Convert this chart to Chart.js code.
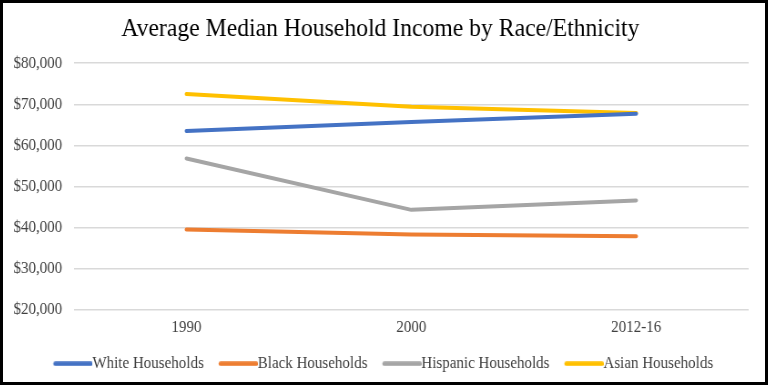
<!DOCTYPE html>
<html>
<head>
<meta charset="utf-8">
<script src="https://cdn.jsdelivr.net/npm/chart.js@4.4.1/dist/chart.umd.min.js"></script>
<style>
  html, body { margin: 0; padding: 0; background: #fff; }
  #frame {
    width: 768px; height: 385px;
    box-sizing: border-box;
    border: 3px solid #000;
    overflow: hidden;
    position: relative;
  }
  /* the source picture is a bit narrower than its fonts, so squeeze the canvas sideways */
  #squeeze {
    width: 837px; height: 379px;
    transform: scaleX(0.9104);
    transform-origin: 0 0;
  }
</style>
</head>
<body>
<div id="frame"><div id="squeeze"><canvas id="incomeChart" width="837" height="379"></canvas></div></div>
<script>
// values, in dollars
const years = ["1990", "2000", "2012-16"];
const whiteIncome = [63500, 65700, 67700];
const blackIncome = [39500, 38300, 37900];
const hispanicIncome = [56800, 44300, 46600];
const asianIncome = [72500, 69400, 67900];

const seriesNames = ["White Households", "Black Households", "Hispanic Households", "Asian Households"];
const seriesColors = ["#4472C4", "#ED7D31", "#A5A5A5", "#FFC000"];

const serif = "'Liberation Serif', 'Times New Roman', serif";
const textGrey = "#404040";

// legend marker: a short thick line, drawn on the right part of a small canvas
function legendMarker(color) {
    const c = document.createElement("canvas");
    c.width = 58;
    c.height = 5;
    const g = c.getContext("2d");
    g.strokeStyle = color;
    g.lineWidth = 4.5;
    g.lineCap = "round";
    g.beginPath();
    g.moveTo(17, 2.5);
    g.lineTo(56, 2.5);
    g.stroke();
    return c;
}

function makeLine(idx, values) {
    return {
        label: seriesNames[idx],
        data: values,
        borderColor: seriesColors[idx],
        backgroundColor: seriesColors[idx],
        borderWidth: 4,
        borderCapStyle: "round",
        borderJoinStyle: "round",
        pointRadius: 0,
        pointHoverRadius: 0,
        tension: 0,
        fill: false,
    };
}

const config = {
    type: "line",
    data: {
        labels: years,
        datasets: [
            makeLine(0, whiteIncome),
            makeLine(1, blackIncome),
            makeLine(2, hispanicIncome),
            makeLine(3, asianIncome),
        ],
    },
    options: {
        responsive: false,
        animation: false,
        layout: {
            padding: { left: 10, right: 18, top: 0, bottom: 0 },
        },
        scales: {
            x: {
                offset: true,
                grid: { display: false, drawTicks: false },
                border: { display: false },
                ticks: {
                    color: textGrey,
                    font: { family: serif, size: 16.5 },
                    padding: 8,
                },
            },
            y: {
                min: 20000,
                max: 80000,
                grid: { color: "#d9d9d9", lineWidth: 1.5, drawTicks: false },
                border: { display: false },
                ticks: {
                    stepSize: 10000,
                    color: textGrey,
                    font: { family: serif, size: 16.5 },
                    padding: 13,
                    callback: (v) => "$" + v.toLocaleString("en-US"),
                },
                afterFit: (scale) => { scale.width = 68; },
            },
        },
        plugins: {
            title: {
                display: true,
                text: "Average Median Household Income by Race/Ethnicity",
                color: "#000",
                font: { family: serif, size: 26, weight: "normal" },
                padding: { top: 11, bottom: 18 },
            },
            legend: {
                position: "bottom",
                labels: {
                    color: textGrey,
                    font: { family: serif, size: 16.5 },
                    usePointStyle: true,
                    pointStyleWidth: 41,
                    padding: 10,
                    generateLabels: (chart) => chart.data.datasets.map((ds, i) => ({
                        text: ds.label,
                        fillStyle: ds.borderColor,
                        strokeStyle: ds.borderColor,
                        lineWidth: 0,
                        pointStyle: legendMarker(ds.borderColor),
                        hidden: false,
                        datasetIndex: i,
                        fontColor: textGrey,
                    })),
                },
            },
            tooltip: { enabled: false },
        },
    },
};

new Chart(document.getElementById("incomeChart"), config);
</script>
</body>
</html>
